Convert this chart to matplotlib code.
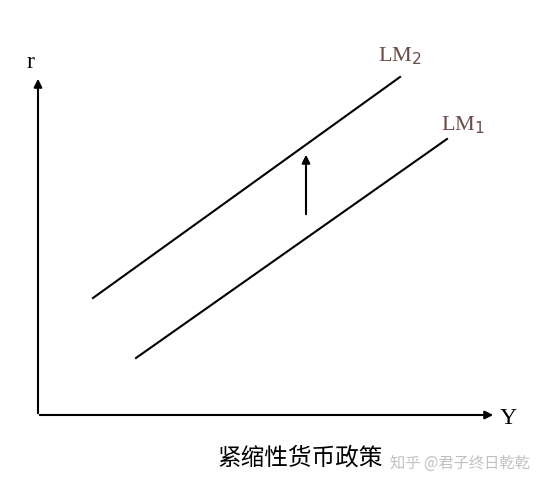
import matplotlib.pyplot as plt

# line endpoints (x, y) in picture units, y grows downward
lm1_x = [136, 447]
lm1_y = [358, 139]
lm2_x = [93, 400]
lm2_y = [298, 77]
shift_x = [306, 306]
shift_y = [217, 152]

fig = plt.figure(figsize=(5.42, 4.87), dpi=100)
ax = fig.add_axes([0, 0, 1, 1])
ax.set_xlim(0, 542)
ax.set_ylim(487, 0)
ax.axis("off")

# axes with arrows
ax.annotate("", xy=(38, 76), xytext=(38, 416),
            arrowprops=dict(arrowstyle="-|>", color="black", lw=1.5, mutation_scale=12))
ax.annotate("", xy=(496, 415), xytext=(37, 415),
            arrowprops=dict(arrowstyle="-|>", color="black", lw=1.5, mutation_scale=12))

ax.plot(lm1_x, lm1_y, color="black", lw=1.5)
ax.plot(lm2_x, lm2_y, color="black", lw=1.5)
ax.annotate("", xy=(shift_x[1], shift_y[1]), xytext=(shift_x[0], shift_y[0]),
            arrowprops=dict(arrowstyle="-|>", color="black", lw=1.5, mutation_scale=12))

serif = "Liberation Serif"
ax.text(30, 63, "r", fontsize=17, family=serif, ha="center", va="center")
ax.text(508, 419, "Y", fontsize=17, family=serif, ha="center", va="center")
ax.text(400, 56, r"LM$_2$", fontsize=16, family=serif, color="#6b4a4a",
        ha="center", va="center")
ax.text(463, 125, r"LM$_1$", fontsize=16, family=serif, color="#6b4a4a",
        ha="center", va="center")
ax.text(300, 458, "紧缩性货币政策", fontsize=17, family=["Noto Sans CJK SC"],
        ha="center", va="center")
ax.text(460, 463, "知乎 @君子终日乾乾", fontsize=11, family=["Noto Sans CJK SC"],
        color="#bbbbbb", ha="center", va="center", alpha=0.9)

fig.savefig("out.png", dpi=100)
